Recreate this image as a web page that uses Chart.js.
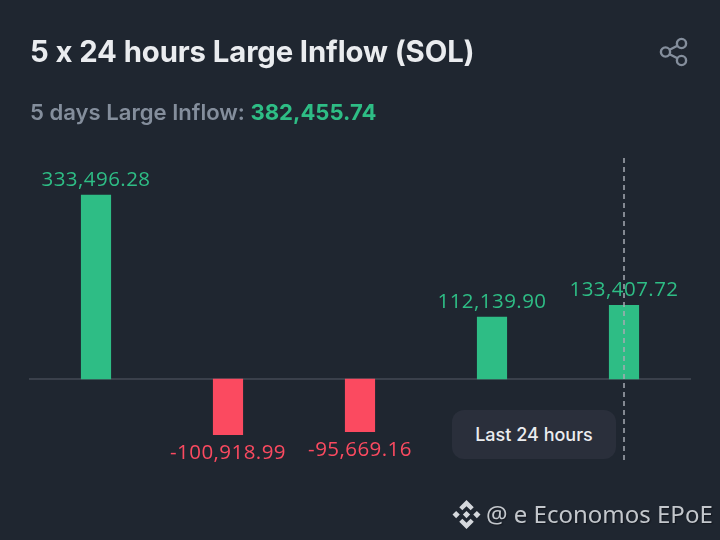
<!DOCTYPE html>
<html>
<head>
<meta charset="utf-8">
<script src="https://cdn.jsdelivr.net/npm/chart.js@4"></script>
<style>
    html, body { margin: 0; padding: 0; background: #1f2630; }
    #page { position: relative; width: 720px; height: 540px; overflow: hidden; font-family: Inter, sans-serif; font-feature-settings: "calt" 0; }
    #chart { position: absolute; left: 0; top: 0; }
    .title { position: absolute; left: 30px; top: 35px; font-size: 29.3px; line-height: 34px; font-weight: 700; letter-spacing: -0.1px; color: #eaecef; white-space: nowrap; }
    .sub { position: absolute; left: 30px; top: 98px; font-size: 22.1px; line-height: 28px; font-weight: 600; color: #848e9c; white-space: nowrap; }
    .sub b { font-weight: 700; color: #2ebd85; }
    .share { position: absolute; left: 658px; top: 36px; }
    .last { position: absolute; left: 452px; top: 410px; width: 164px; height: 49px; line-height: 49px; border-radius: 12px; background: #2a2f3b; color: #eaecef; font-size: 18px; font-weight: 500; text-align: center; }
    .mark { position: absolute; left: 452px; top: 498px; height: 34px; color: #c3c7cc; font-family: "Noto Sans", sans-serif; font-size: 24px; line-height: 34px; white-space: nowrap; }
    .mark svg { position: absolute; left: 0; top: 2px; }
    .mark span { position: absolute; left: 34px; top: -1px; text-shadow: 1px 1px 1px #14181f; }
</style>
</head>
<body>
<div id="page">
    <canvas id="chart" width="720" height="540"></canvas>
    <div class="title">5 x 24 hours Large Inflow (SOL)</div>
    <div class="sub">5 days Large Inflow: <b>382,455.74</b></div>
    <svg class="share" width="32" height="32" viewBox="0 0 32 32" fill="none" stroke="#848e9c" stroke-width="2.4">
        <circle cx="23.5" cy="7.5" r="4.6"/><circle cx="7.5" cy="16" r="4.6"/><circle cx="23.5" cy="24.5" r="4.6"/>
        <path d="M11.6 13.8 19.4 9.7M11.6 18.2 19.4 22.3"/>
    </svg>
    <div class="last">Last 24 hours</div>
    <div class="mark">
        <svg width="29" height="29" viewBox="0 0 28 28" fill="#d5d8dc">
            <path d="M14 0 21 7 18 10 14 6 10 10 7 7ZM14 28 7 21 10 18 14 22 18 18 21 21ZM14 10.5 17.5 14 14 17.5 10.5 14ZM4 10.5 7.5 14 4 17.5 0.5 14ZM24 10.5 27.5 14 24 17.5 20.5 14Z"/>
        </svg>
        <span>@ e Economos EPoE</span>
    </div>
</div>
<script>
const days = ['Day 1', 'Day 2', 'Day 3', 'Day 4', 'Last 24 hours'];
const inflow = [333496.28, -100918.99, -95669.16, 112139.90, 133407.72];

const GREEN = '#2ebd85';
const RED = '#fb4a60';

const fmt = v => v.toLocaleString('en-US', { minimumFractionDigits: 2, maximumFractionDigits: 2 });

// value labels above / below the bars
const valueLabels = {
    id: 'valueLabels',
    afterDatasetsDraw(chart) {
        const { ctx } = chart;
        ctx.save();
        ctx.font = '20.5px "Open Sans", sans-serif';
        ctx.letterSpacing = '0.45px';
        ctx.textAlign = 'center';
        ctx.textBaseline = 'middle';
        chart.getDatasetMeta(0).data.forEach((bar, i) => {
            const v = inflow[i];
            ctx.fillStyle = v >= 0 ? GREEN : RED;
            ctx.fillText(fmt(v), bar.x, bar.y + (v >= 0 ? -15 : 18));
        });
        ctx.restore();
    }
};

// dashed marker on the latest day
const marker = {
    id: 'marker',
    afterDraw(chart) {
        const { ctx, chartArea } = chart;
        const x = chart.scales.x.getPixelForValue(days.length - 1);
        ctx.save();
        ctx.strokeStyle = '#a6abb2';
        ctx.lineWidth = 1.5;
        ctx.setLineDash([5, 4]);
        ctx.beginPath();
        ctx.moveTo(x, chartArea.top);
        ctx.lineTo(x, chartArea.bottom);
        ctx.stroke();
        ctx.restore();
    }
};

new Chart(document.getElementById('chart'), {
    type: 'bar',
    data: {
        labels: days,
        datasets: [{
            data: inflow,
            backgroundColor: inflow.map(v => v >= 0 ? GREEN : RED),
            barThickness: 29.5,
        }]
    },
    options: {
        responsive: false,
        animation: false,
        layout: { padding: { left: 30, right: 30, top: 158, bottom: 80 } },
        plugins: { legend: { display: false }, tooltip: { enabled: false } },
        scales: {
            x: {
                position: { y: 0 },
                grid: { display: false },
                ticks: { display: false },
                border: { color: '#3a404b', width: 2 },
            },
            y: {
                display: false,
                min: -146800,
                max: 400500,
            }
        }
    },
    plugins: [valueLabels, marker]
});
</script>
</body>
</html>
